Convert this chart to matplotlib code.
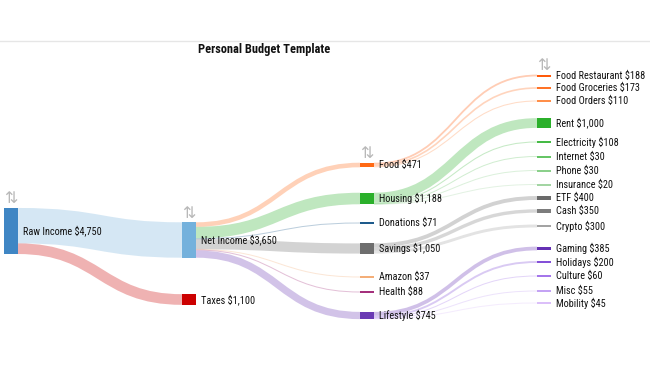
import matplotlib
matplotlib.use("Agg")
import matplotlib.pyplot as plt
from matplotlib.path import Path
from matplotlib.patches import PathPatch, Rectangle

# ---------------- data ----------------
sources = ["Raw Income", "Raw Income",
           "Net Income", "Net Income", "Net Income", "Net Income", "Net Income", "Net Income", "Net Income",
           "Food", "Food", "Food",
           "Housing", "Housing", "Housing", "Housing", "Housing",
           "Savings", "Savings", "Savings",
           "Lifestyle", "Lifestyle", "Lifestyle", "Lifestyle", "Lifestyle"]
targets = ["Net Income", "Taxes",
           "Food", "Housing", "Donations", "Savings", "Amazon", "Health", "Lifestyle",
           "Food Restaurant", "Food Groceries", "Food Orders",
           "Rent", "Electricity", "Internet", "Phone", "Insurance",
           "ETF", "Cash", "Crypto",
           "Gaming", "Holidays", "Culture", "Misc", "Mobility"]
amounts = [3650, 1100,
           471, 1188, 71, 1050, 37, 88, 745,
           188, 173, 110,
           1000, 108, 30, 30, 20,
           400, 350, 300,
           385, 200, 60, 55, 45]
title = "Personal Budget Template"

# ---------------- layout / style ----------------
node_color = {
    "Raw Income": "#3f86c4", "Net Income": "#74b1dc", "Taxes": "#cc0000",
    "Food": "#ff6914", "Housing": "#2bb02b", "Donations": "#1e5b8c", "Savings": "#6e6e6e",
    "Amazon": "#f4ae78", "Health": "#a4307c", "Lifestyle": "#6a3ab4",
    "Food Restaurant": "#ff5a0a", "Food Groceries": "#ff7326", "Food Orders": "#ff8f4a",
    "Rent": "#2bb02b", "Electricity": "#45ba45", "Internet": "#66c566", "Phone": "#8bd08b",
    "Insurance": "#a3d5a3", "ETF": "#6a6a6a", "Cash": "#7c7c7c", "Crypto": "#a3a3a3",
    "Gaming": "#6531b4", "Holidays": "#8450d8", "Culture": "#a476ea", "Misc": "#c4a3f4",
    "Mobility": "#dbbff9",
}
node_column = {"Raw Income": 0, "Net Income": 1, "Taxes": 1}
for n in ["Food", "Housing", "Donations", "Savings", "Amazon", "Health", "Lifestyle"]:
    node_column[n] = 2
for n in ["Food Restaurant", "Food Groceries", "Food Orders", "Rent", "Electricity", "Internet",
          "Phone", "Insurance", "ETF", "Cash", "Crypto", "Gaming", "Holidays", "Culture", "Misc",
          "Mobility"]:
    node_column[n] = 3
# vertical centre of each node (pixel layout)
node_center = {
    "Raw Income": 231, "Net Income": 240, "Taxes": 299.5,
    "Food": 165, "Housing": 198.5, "Donations": 223, "Savings": 248.5, "Amazon": 277,
    "Health": 292, "Lifestyle": 315.5,
    "Food Restaurant": 75.5, "Food Groceries": 88, "Food Orders": 101, "Rent": 123,
    "Electricity": 142, "Internet": 156.5, "Phone": 170.5, "Insurance": 184.5,
    "ETF": 198, "Cash": 211, "Crypto": 226, "Gaming": 248.5, "Holidays": 262,
    "Culture": 276, "Misc": 291, "Mobility": 303,
}
col_x = [4, 182, 360, 537]
node_w = 14
scale = 0.0097      # px per dollar
min_node_h = 2.0
flow_alpha = 0.3
handle_nodes = ["Raw Income", "Net Income", "Food", "Food Restaurant"]

FONT = "Roboto Condensed"
plt.rcParams["font.family"] = [FONT, "DejaVu Sans"]

W, H, DPI = 650, 372, 100
fig = plt.figure(figsize=(W / DPI, H / DPI), dpi=DPI)
ax = fig.add_axes([0, 0, 1, 1])
ax.set_xlim(0, W)
ax.set_ylim(H, 0)
ax.axis("off")

# node values
node_in, node_out = {}, {}
for s, t, v in zip(sources, targets, amounts):
    node_out[s] = node_out.get(s, 0) + v
    node_in[t] = node_in.get(t, 0) + v
node_value = {n: max(node_in.get(n, 0), node_out.get(n, 0)) for n in node_column}

# flows
out_off = {n: 0.0 for n in node_column}
in_off = {n: 0.0 for n in node_column}
px2pt = 72.0 / DPI
for s, t, v in zip(sources, targets, amounts):
    h = v * scale
    s_top = node_center[s] - node_value[s] * scale / 2
    t_top = node_center[t] - node_value[t] * scale / 2
    y0 = s_top + out_off[s] + h / 2
    y1 = t_top + in_off[t] + h / 2
    out_off[s] += h
    in_off[t] += h
    x0 = col_x[node_column[s]] + node_w
    x1 = col_x[node_column[t]]
    xm = (x0 + x1) / 2
    path = Path([(x0, y0), (xm, y0), (xm, y1), (x1, y1)],
                [Path.MOVETO, Path.CURVE4, Path.CURVE4, Path.CURVE4])
    ax.add_patch(PathPatch(path, facecolor="none", edgecolor=node_color[t],
                           alpha=flow_alpha, lw=max(h, 1.0) * px2pt,
                           capstyle="butt", zorder=1))

# nodes and labels
for n, col in node_column.items():
    h = max(node_value[n] * scale, min_node_h)
    x = col_x[col]
    ax.add_patch(Rectangle((x, node_center[n] - h / 2), node_w, h,
                           facecolor=node_color[n], edgecolor="none", zorder=3))
    ax.text(x + node_w + 5, node_center[n], f"{n} ${node_value[n]:,}",
            fontsize=7.4, color="#111111", va="center", ha="left", zorder=4)

for n in handle_nodes:
    h = max(node_value[n] * scale, min_node_h)
    ax.text(col_x[node_column[n]] + node_w / 2, node_center[n] - h / 2 - 9, "⇅",
            fontsize=11.5, color="#b8b8b8", ha="center", va="center", zorder=4,
            family=["DejaVu Sans"])

ax.plot([0, W], [41, 41], color="#e6e6e6", lw=1, zorder=0)
ax.text(264, 49, title, fontsize=8.9, fontweight="bold", color="#111111",
        ha="center", va="center")

fig.savefig("out.png", dpi=DPI)
